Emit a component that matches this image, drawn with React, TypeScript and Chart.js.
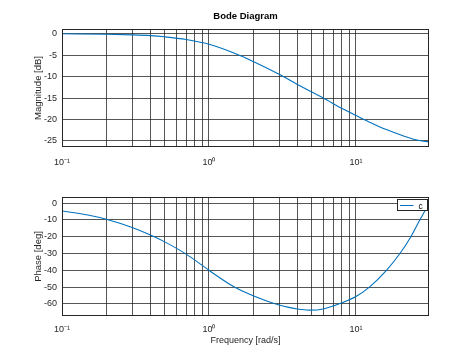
import React, { useEffect, useRef } from 'react';
import { Chart, registerables } from 'chart.js';

Chart.register(...registerables);

// ---- Data ----
const MAG_FREQ = [0.1, 0.2, 0.3, 0.4, 0.5, 0.7, 1.0, 1.55, 2, 3, 4, 5, 6, 8, 10, 12.4, 16.1, 21.1, 24.7, 28.9, 31.42];
const MAG_DB = [-0.02, -0.12, -0.26, -0.44, -0.72, -1.35, -2.47, -4.78, -6.48, -9.46, -11.81, -13.58, -14.98, -17.38, -19.05, -20.62, -22.34, -23.83, -24.58, -25.05, -25.2];

const PHASE_FREQ = [0.1, 0.15, 0.2, 0.3, 0.4, 0.5, 0.7, 1.0, 1.49, 2, 2.5, 3, 3.5, 4, 4.8, 6, 8, 10, 12.35, 16.13, 19.92, 23.66, 27.25, 29.5, 31.42];
const PHASE_DEG = [-4.7, -7.1, -9.6, -14.5, -19.0, -23.1, -30.4, -40.0, -50, -55.2, -58.4, -60.6, -62.07, -63.06, -63.7, -63.0, -59.4, -55.6, -50, -40, -30, -20, -10, -4.6, 0];

const FREQ_GRID = [0.1, 0.2, 0.3, 0.4, 0.5, 0.6, 0.7, 0.8, 0.9, 1, 2, 3, 4, 5, 6, 7, 8, 9, 10];
const FREQ_LABELS = ['10⁻¹', '', '', '', '', '', '', '', '', '10⁰', '', '', '', '', '', '', '', '', '10¹'];
const MAG_TICKS = [0, -5, -10, -15, -20, -25];
const PHASE_TICKS = [0, -10, -20, -30, -40, -50, -60];

const SERIES_NAME = 'c';
const TITLE = 'Bode Diagram';
const MAG_LABEL = 'Magnitude [dB]';
const PHASE_LABEL = 'Phase [deg]';
const FREQ_LABEL = 'Frequency [rad/s]';

const FONT = 'Liberation Sans, Arial, Helvetica, sans-serif';
const TEXT = '#262626';
const GRID = 'rgba(30,30,30,0.75)';
const LINE = '#0072BD';

const framePlugin = {
  id: 'frame',
  afterDatasetsDraw(chart: any) {
    const { ctx, chartArea } = chart;
    ctx.save();
    ctx.strokeStyle = TEXT;
    ctx.lineWidth = 1;
    const l = Math.round(chartArea.left) + 0.5;
    const t = Math.round(chartArea.top) + 0.5;
    const r = Math.round(chartArea.right) - 0.5;
    const b = Math.round(chartArea.bottom) - 0.5;
    ctx.strokeRect(l, t, r - l, b - t);
    ctx.restore();
  },
};

const legendBoxPlugin = {
  id: 'legendBox',
  afterDraw(chart: any) {
    const { ctx, chartArea } = chart;
    const ds = chart.data.datasets[0];
    const w = 30;
    const h = 11;
    const x = Math.round(chartArea.right) - 1.5 - w;
    const y = Math.round(chartArea.top) + 2.5;
    ctx.save();
    ctx.fillStyle = '#ffffff';
    ctx.fillRect(x, y, w, h);
    ctx.strokeStyle = TEXT;
    ctx.lineWidth = 1;
    ctx.strokeRect(x, y, w, h);
    ctx.strokeStyle = ds.borderColor;
    ctx.lineWidth = 1;
    ctx.beginPath();
    ctx.moveTo(x + 2.5, y + 6);
    ctx.lineTo(x + 16, y + 6);
    ctx.stroke();
    ctx.fillStyle = '#000';
    ctx.font = `8.5px ${FONT}`;
    ctx.textAlign = 'left';
    ctx.textBaseline = 'middle';
    ctx.fillText(ds.label, x + 21, y + 7);
    ctx.restore();
  },
};

function xScale(showTitle: boolean, axisHeight: number, tickPad: number) {
  return {
    type: 'logarithmic',
    min: 0.1,
    max: 31.42,
    afterBuildTicks: (s: any) => {
      s.ticks = FREQ_GRID.map((v) => ({ value: v }));
    },
    afterFit: (s: any) => {
      s.height = axisHeight;
    },
    ticks: {
      autoSkip: false,
      maxRotation: 0,
      padding: tickPad,
      color: TEXT,
      font: { family: FONT, size: 9 },
      callback: (_v: any, i: number) => FREQ_LABELS[i],
    },
    grid: { color: GRID, lineWidth: 1, drawTicks: false },
    border: { display: false },
    title: {
      display: showTitle,
      text: FREQ_LABEL,
      color: TEXT,
      font: { family: FONT, size: 9 },
      padding: { top: 0, bottom: 8.6 },
    },
  };
}

function yScale(min: number, max: number, ticks: number[], label: string) {
  return {
    type: 'linear',
    min,
    max,
    afterBuildTicks: (s: any) => {
      s.ticks = ticks.map((v) => ({ value: v }));
    },
    afterFit: (s: any) => {
      s.width = 62;
    },
    ticks: {
      padding: 5,
      color: TEXT,
      font: { family: FONT, size: 9 },
      callback: (v: any) => String(v),
    },
    grid: { color: GRID, lineWidth: 1, drawTicks: false },
    border: { display: false },
    title: {
      display: true,
      text: label,
      color: TEXT,
      font: { family: FONT, size: 9.5 },
      padding: { top: 33, bottom: 0 },
    },
  };
}

function makePoints(xs: number[], ys: number[]) {
  return xs.map((x, i) => ({ x, y: ys[i] }));
}

export default function App() {
  const topRef = useRef<HTMLCanvasElement>(null);
  const botRef = useRef<HTMLCanvasElement>(null);

  useEffect(() => {
    const top = new Chart(topRef.current as HTMLCanvasElement, {
      type: 'line',
      data: {
        datasets: [
          {
            label: SERIES_NAME,
            data: makePoints(MAG_FREQ, MAG_DB),
            borderColor: LINE,
            borderWidth: 1.1,
            pointRadius: 0,
            cubicInterpolationMode: 'monotone',
            fill: false,
          },
        ],
      },
      options: {
        responsive: false,
        animation: false,
        events: [],
        layout: { padding: { left: 0, right: 45, top: 0, bottom: 0 } },
        plugins: {
          legend: { display: false },
          tooltip: { enabled: false },
          title: {
            display: true,
            fullSize: false,
            text: TITLE,
            color: '#000',
            font: { family: FONT, size: 9.5, weight: 'bold' },
            padding: { top: 11, bottom: 6.6 },
          },
        },
        scales: {
          x: xScale(false, 28, 10),
          y: yScale(-26.4, 1.1, MAG_TICKS, MAG_LABEL),
        },
      } as any,
      plugins: [framePlugin],
    });

    const bot = new Chart(botRef.current as HTMLCanvasElement, {
      type: 'line',
      data: {
        datasets: [
          {
            label: SERIES_NAME,
            data: makePoints(PHASE_FREQ, PHASE_DEG),
            borderColor: LINE,
            borderWidth: 1.1,
            pointRadius: 0,
            cubicInterpolationMode: 'monotone',
            fill: false,
          },
        ],
      },
      options: {
        responsive: false,
        animation: false,
        events: [],
        layout: { padding: { left: 0, right: 45, top: 22, bottom: 0 } },
        plugins: {
          legend: { display: false },
          tooltip: { enabled: false },
          title: { display: false },
        },
        scales: {
          x: xScale(true, 39, 8.5),
          y: yScale(-67.2, 3.6, PHASE_TICKS, PHASE_LABEL),
        },
      } as any,
      plugins: [framePlugin, legendBoxPlugin],
    });

    return () => {
      top.destroy();
      bot.destroy();
    };
  }, []);

  return (
    <div
      style={{
        position: 'fixed',
        left: 0,
        top: 0,
        width: 474,
        height: 355,
        background: '#ffffff',
      }}
    >
      <canvas
        ref={topRef}
        width={474}
        height={175}
        style={{ position: 'absolute', left: 0, top: 0, width: 474, height: 175 }}
      />
      <canvas
        ref={botRef}
        width={474}
        height={180}
        style={{ position: 'absolute', left: 0, top: 175, width: 474, height: 180 }}
      />
    </div>
  );
}
